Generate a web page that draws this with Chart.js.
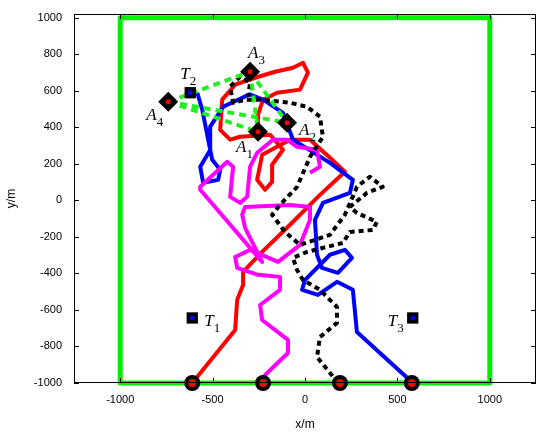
<!DOCTYPE html>
<html><head><meta charset="utf-8">
<script src="https://cdn.jsdelivr.net/npm/chart.js@4/dist/chart.umd.min.js"></script>
<style>body{margin:0;background:#fff}#w{width:550px;height:436px}</style>
</head><body><div id="w"><canvas id="c"></canvas></div>
<script>
const xTicks=[-1000,-500,0,500,1000];
const yTicks=[-1000,-800,-600,-400,-200,0,200,400,600,800,1000];
const boundX=[-1000,1000,1000,-1000,-1000];
const boundY=[-1000,-1000,1000,1000,-1000];
const redX=[-610,-378,-367,-335,-335,-232,-81,81,216,135,27,-81,-232,-259,-216,-178,-178,-119,-189,-351,-405,-459,-448,-378,-270,-162,-65,-11,16,-27,-151,-227,-254,-254];
const redY=[-1000,-710,-545,-463,-392,-282,-134,30,156,233,332,332,249,112,58,101,195,277,359,348,332,386,551,633,671,704,726,753,699,606,589,551,469,386];
const blueX=[578,281,259,173,70,-16,0,135,216,254,178,92,65,54,97,243,259,135,-65,-119,-227,-300,-443,-513,-513,-567,-551,-470,-459,-502,-524,-556,-583];
const blueY=[-995,-721,-490,-446,-518,-490,-436,-298,-271,-315,-397,-370,-298,-107,-14,41,112,205,332,479,551,580,512,403,276,184,96,112,167,222,332,496,589];
const magX=[-227,-216,-92,-92,-232,-243,-135,-135,-254,-367,-378,-297,-146,-27,27,27,-81,-324,-340,-324,-232,-567,-567,-421,-389,-405,-351,-313,-297,-259,-173,-97,-43,65,81,27];
const magY=[-1000,-956,-836,-764,-655,-573,-490,-419,-408,-370,-310,-271,-337,-244,-107,-36,-25,-36,-79,-151,-337,58,74,211,184,19,-14,19,184,260,332,332,293,277,184,151];
const blkX=[180,65,81,173,173,81,-11,-43,-65,11,205,243,367,389,281,243,335,421,351,281,216,135,-27,-108,-178,-135,-43,27,97,81,11,-81,-243,-324,-389,-405,-351,-297,-308];
const blkY=[-1000,-858,-748,-671,-584,-490,-436,-381,-315,-282,-233,-173,-162,-118,-69,-36,41,74,129,74,-79,-189,-244,-173,-79,-25,74,238,348,458,512,534,551,551,534,622,677,644,567];
const agentNames=['1','2','3','4'];
const agentX=[-254,-97,-297,-740];
const agentY=[375,425,704,540];
const targetNames=['1','2','3'];
const targetX=[-610,-621,583];
const targetY=[-644,589,-644];
const startX=[-610,-227,189,578];
const startY=[-1000,-1000,-1000,-1000];
const linkPairs=[[3,2],[3,0],[3,1],[2,0],[2,1]];

const pts=(xs,ys)=>xs.map((x,i)=>({x,y:ys[i]}));
const linkData=[];
linkPairs.forEach(([a,b])=>{linkData.push({x:agentX[a],y:agentY[a]},{x:agentX[b],y:agentY[b]},{x:NaN,y:NaN});});
const line=(d,c,w,dash)=>({data:d,borderColor:c,borderWidth:w,borderDash:dash||[],pointRadius:0,showLine:true,fill:false,spanGaps:false,borderCapStyle:'butt',borderJoinStyle:'round'});
const datasets=[
 line(pts(boundX,boundY),'#00ee00',5),
 line(pts(redX,redY),'#ff0000',4),
 line(pts(blueX,blueY),'#0000ff',4),
 line(pts(magX,magY),'#ff00ff',4),
 line(pts(blkX,blkY),'#000000',4,[5,4]),
 line(linkData,'#22ee22',4,[7,5]),
 {data:pts(startX,startY),showLine:false,pointStyle:'circle',pointRadius:8,backgroundColor:'#000',borderWidth:0},
 {data:pts(startX,startY),showLine:false,pointStyle:'circle',pointRadius:4,backgroundColor:'#f00',borderWidth:0},
 {data:pts(agentX,agentY),showLine:false,pointStyle:'rectRot',pointRadius:10,backgroundColor:'#000',borderWidth:0},
 {data:pts(agentX,agentY),showLine:false,pointStyle:'circle',pointRadius:2.5,backgroundColor:'#f00',borderWidth:0},
 {data:pts(targetX,targetY),showLine:false,pointStyle:'rect',pointRadius:8,backgroundColor:'#000',borderWidth:0},
 {data:pts(targetX,targetY),showLine:false,pointStyle:'rect',pointRadius:3,backgroundColor:'#0000ff',borderWidth:0}
];
datasets.forEach((d,i)=>{d.order=100-i;d.clip=false;});
const agentOff=[[-22,20],[12,12],[-2,-14],[-22,18]];
const targetOff=[[12,8],[-10,-14],[-25,8]];
const deco={id:'deco',afterDatasetsDraw(ch){
 const c=ch.ctx,a=ch.chartArea,xs=ch.scales.x,ys=ch.scales.y;
 c.save();c.strokeStyle='#000';c.lineWidth=1;c.strokeRect(a.left+0.5,a.top+0.5,a.right-a.left-1,a.bottom-a.top-1);
 c.beginPath();
 xTicks.forEach(v=>{const p=Math.round(xs.getPixelForValue(v))+0.5;c.moveTo(p,a.bottom);c.lineTo(p,a.bottom-5);c.moveTo(p,a.top);c.lineTo(p,a.top+5);});
 yTicks.forEach(v=>{const p=Math.round(ys.getPixelForValue(v))+0.5;c.moveTo(a.left,p);c.lineTo(a.left+5,p);c.moveTo(a.right,p);c.lineTo(a.right-5,p);});
 c.stroke();
 const lab=(L,s,x,y)=>{c.fillStyle='#000';c.font='italic 17px "Liberation Serif"';c.textAlign='left';c.textBaseline='alphabetic';c.fillText(L,x,y);const w=c.measureText(L).width;c.font='13px "Liberation Serif"';c.fillText(s,x+w,y+6);};
 agentX.forEach((v,i)=>lab('A',agentNames[i],xs.getPixelForValue(v)+agentOff[i][0],ys.getPixelForValue(agentY[i])+agentOff[i][1]));
 targetX.forEach((v,i)=>lab('T',targetNames[i],xs.getPixelForValue(v)+targetOff[i][0],ys.getPixelForValue(targetY[i])+targetOff[i][1]));
 c.restore();}};
new Chart(document.getElementById('c'),{type:'scatter',data:{datasets},plugins:[deco],
 options:{responsive:true,maintainAspectRatio:false,animation:false,events:[],
 layout:{padding:{top:14,right:14,left:0,bottom:0}},
 plugins:{legend:{display:false},tooltip:{enabled:false}},
 scales:{
  x:{type:'linear',min:-1250,max:1250,grid:{display:false},border:{display:false},
     afterBuildTicks(s){s.ticks=xTicks.map(v=>({value:v}));},afterFit(s){s.height=53;},
     ticks:{color:'#000',font:{family:'Liberation Sans',size:11},maxRotation:0,padding:2,callback:v=>String(v)},
     title:{display:true,text:'x/m',color:'#000',font:{family:'Liberation Sans',size:12},padding:{top:0}}},
  y:{type:'linear',min:-1000,max:1020,grid:{display:false},border:{display:false},
     afterBuildTicks(s){s.ticks=yTicks.map(v=>({value:v}));},afterFit(s){s.width=74;},
     ticks:{color:'#000',font:{family:'Liberation Sans',size:11},padding:4,callback:v=>String(v)},
     title:{display:true,text:'y/m',color:'#000',font:{family:'Liberation Sans',size:12},padding:{bottom:2}}}
 }}});
</script></body></html>
